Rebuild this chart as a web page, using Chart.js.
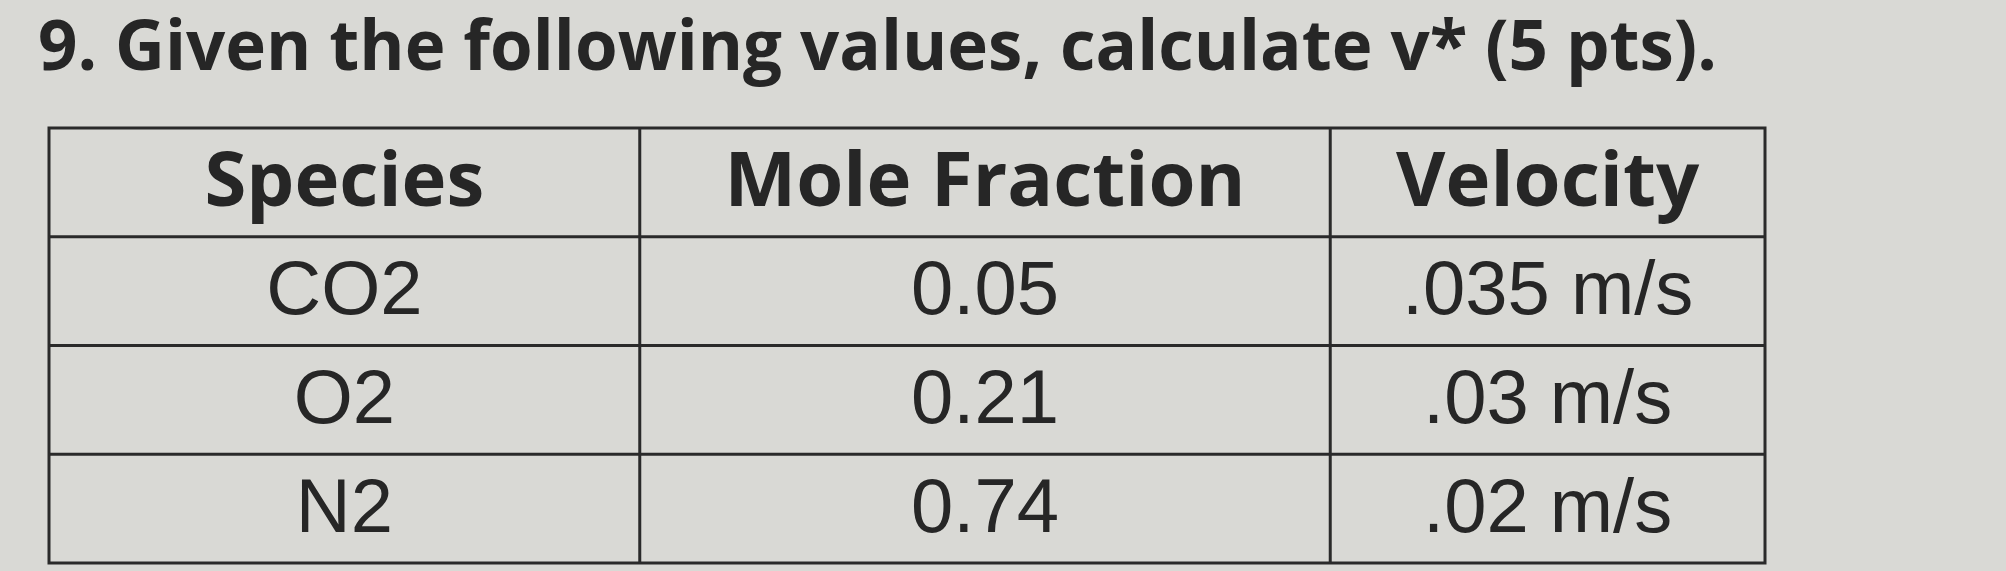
<!DOCTYPE html>
<html><head><meta charset="utf-8">
<script src="https://cdn.jsdelivr.net/npm/chart.js@4"></script>
<style>html,body{margin:0;padding:0;background:#d9d9d5;}#c{display:block}</style>
</head><body>
<div style="width:2006px;height:571px"><canvas id="c" width="2006" height="571"></canvas></div>
<script>
const title = "9. Given the following values, calculate v* (5 pts).";
const headers = ["Species", "Mole Fraction", "Velocity"];
const species = ["CO2", "O2", "N2"];
const moleFraction = ["0.05", "0.21", "0.74"];
const velocity = [".035 m/s", ".03 m/s", ".02 m/s"];

const colWeights = [0.462, 0.540, 0.340]; // relative column widths (layout)
const rowLabels = ["header"].concat(species);

const tablePlugin = {
  id: 'table',
  afterDraw(chart) {
    const ctx = chart.ctx, x = chart.scales.x, y = chart.scales.y, a = chart.chartArea;
    const tot = colWeights.reduce((s, v) => s + v, 0);
    const edges = [x.getPixelForValue(0)];
    let acc = 0;
    colWeights.forEach(w => { acc += w; edges.push(x.getPixelForValue(acc / tot * 3)); });
    const rowH = Math.abs(y.getPixelForValue(1) - y.getPixelForValue(0));
    ctx.save();
    ctx.fillStyle = '#262626';
    ctx.font = 'bold 69px "Open Sans", sans-serif';
    ctx.textBaseline = 'middle'; ctx.textAlign = 'left';
    ctx.fillText(title, 38, 50);
    ctx.strokeStyle = '#2a2a2a'; ctx.lineWidth = 3;
    ctx.strokeRect(edges[0], a.top, edges[3] - edges[0], a.bottom - a.top);
    for (let i = 1; i < 3; i++) { ctx.beginPath(); ctx.moveTo(edges[i], a.top); ctx.lineTo(edges[i], a.bottom); ctx.stroke(); }
    for (let r = 1; r < rowLabels.length; r++) {
      const yy = y.getPixelForValue(r) - rowH / 2;
      ctx.beginPath(); ctx.moveTo(edges[0], yy); ctx.lineTo(edges[3], yy); ctx.stroke();
    }
    ctx.textAlign = 'center';
    const cols = [species, moleFraction, velocity];
    ctx.font = 'bold 76px "Open Sans", sans-serif';
    headers.forEach((h, c) => ctx.fillText(h, (edges[c] + edges[c + 1]) / 2, y.getPixelForValue(0) + 2));
    ctx.font = '76px "Liberation Sans", Arial, sans-serif';
    for (let r = 0; r < species.length; r++) {
      cols.forEach((col, c) => ctx.fillText(col[r], (edges[c] + edges[c + 1]) / 2, y.getPixelForValue(r + 1) + 2));
    }
    ctx.restore();
  }
};

new Chart(document.getElementById('c'), {
  type: 'scatter',
  data: { labels: rowLabels, datasets: [{ data: [], pointRadius: 0 }] },
  options: {
    responsive: false, animation: false,
    layout: { padding: { left: 49, right: 241, top: 128, bottom: 8 } },
    plugins: { legend: { display: false }, tooltip: { enabled: false }, title: { display: false } },
    scales: {
      x: { type: 'linear', min: 0, max: 3, display: false },
      y: { type: 'category', labels: rowLabels, offset: true, display: false }
    }
  },
  plugins: [tablePlugin]
});
</script>
</body></html>
